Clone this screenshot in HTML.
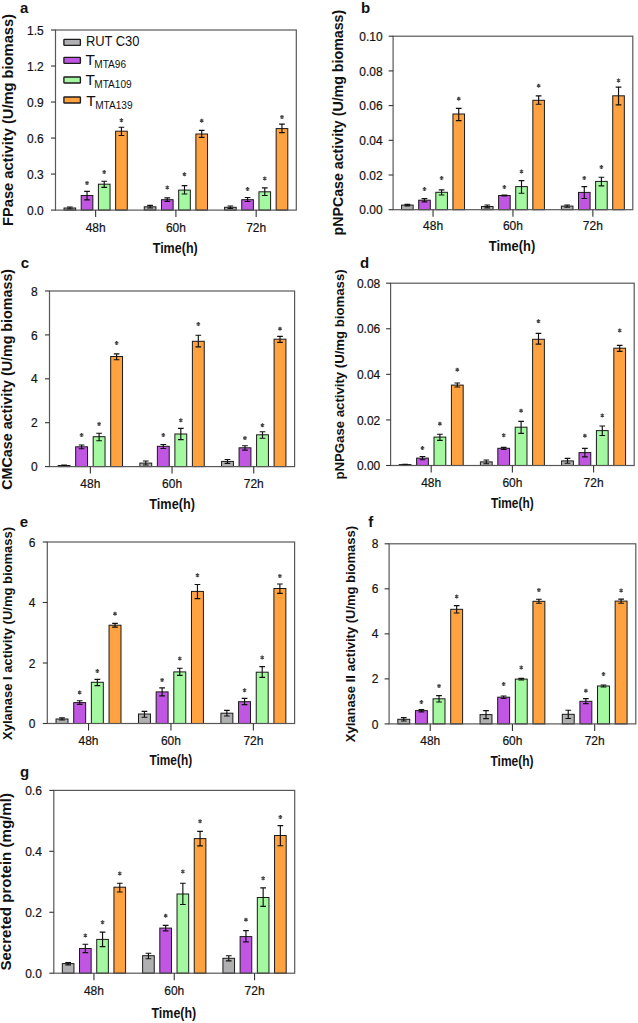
<!DOCTYPE html>
<html><head><meta charset="utf-8"><title>Figure</title>
<style>
html,body{margin:0;padding:0;background:#fff;}
body{width:638px;height:1023px;overflow:hidden;}
svg{display:block;}
text{font-family:"Liberation Sans",sans-serif;fill:#111;}
.tl{font-size:13px;stroke:#111;stroke-width:0.2px;}
.tt{font-size:13.8px;font-weight:bold;}
.yl{font-weight:bold;}
.pl{font-size:15px;font-weight:bold;}
.lg{font-size:13.8px;}
.lgT{font-size:15.4px;}
.lgS{font-size:10.1px;}
.bar{stroke:#1a1a1a;stroke-width:1;}
.lbar{stroke:#1c1c1c;stroke-width:1.35;}
.err{stroke:#111;stroke-width:1.15;fill:none;}
.ast{stroke:#444;stroke-width:1.2;fill:none;}
.frame{fill:none;stroke:#585858;stroke-width:1.2;}
.tick{stroke:#333;stroke-width:1.1;fill:none;}
</style></head>
<body><svg width="638" height="1023" viewBox="0 0 638 1023">
<rect x="64.01" y="208" width="11.64" height="2.1" fill="#b0b0b2" class="bar"/>
<path d="M69.83 207V209 M66.98 207H72.68 M66.98 209H72.68" class="err"/>
<rect x="81.21" y="195.5" width="11.64" height="14.6" fill="#c056e2" class="bar"/>
<path d="M87.03 191.4V199.9 M84.18 191.4H89.88 M84.18 199.9H89.88" class="err"/>
<path d="M87.03 181.1V185.1 M85.29 182.1L88.77 184.1 M85.29 184.1L88.77 182.1" class="ast"/>
<rect x="98.41" y="184.2" width="11.64" height="25.9" fill="#a4f8a0" class="bar"/>
<path d="M104.23 181.2V187.3 M101.38 181.2H107.08 M101.38 187.3H107.08" class="err"/>
<path d="M104.23 170.1V174.1 M102.49 171.1L105.97 173.1 M102.49 173.1L105.97 171.1" class="ast"/>
<rect x="115.62" y="131.2" width="11.64" height="78.9" fill="#ffa23f" class="bar"/>
<path d="M121.44 127.2V135.5 M118.59 127.2H124.29 M118.59 135.5H124.29" class="err"/>
<path d="M121.44 118.2V122.2 M119.7 119.2L123.18 121.2 M119.7 121.2L123.18 119.2" class="ast"/>
<rect x="144.28" y="206.8" width="11.64" height="3.3" fill="#b0b0b2" class="bar"/>
<path d="M150.1 205.4V208 M147.25 205.4H152.95 M147.25 208H152.95" class="err"/>
<rect x="161.48" y="199.7" width="11.64" height="10.4" fill="#c056e2" class="bar"/>
<path d="M167.3 197.8V201.4 M164.45 197.8H170.15 M164.45 201.4H170.15" class="err"/>
<path d="M167.3 185.6V189.6 M165.56 186.6L169.04 188.6 M165.56 188.6L169.04 186.6" class="ast"/>
<rect x="178.68" y="190.1" width="11.64" height="20" fill="#a4f8a0" class="bar"/>
<path d="M184.5 185.6V194 M181.65 185.6H187.35 M181.65 194H187.35" class="err"/>
<path d="M184.5 172.3V176.3 M182.76 173.3L186.24 175.3 M182.76 175.3L186.24 173.3" class="ast"/>
<rect x="195.88" y="134" width="11.64" height="76.1" fill="#ffa23f" class="bar"/>
<path d="M201.7 130.3V137.4 M198.85 130.3H204.55 M198.85 137.4H204.55" class="err"/>
<path d="M201.7 118.7V122.7 M199.96 119.7L203.44 121.7 M199.96 121.7L203.44 119.7" class="ast"/>
<rect x="224.55" y="207.3" width="11.64" height="2.8" fill="#b0b0b2" class="bar"/>
<path d="M230.36 206V208.5 M227.51 206H233.21 M227.51 208.5H233.21" class="err"/>
<rect x="241.75" y="199.7" width="11.64" height="10.4" fill="#c056e2" class="bar"/>
<path d="M247.57 197.5V201.5 M244.72 197.5H250.42 M244.72 201.5H250.42" class="err"/>
<path d="M247.57 187V191 M245.83 188L249.31 190 M245.83 190L249.31 188" class="ast"/>
<rect x="258.95" y="191.8" width="11.64" height="18.3" fill="#a4f8a0" class="bar"/>
<path d="M264.77 187.9V195.5 M261.92 187.9H267.62 M261.92 195.5H267.62" class="err"/>
<path d="M264.77 176.6V180.6 M263.03 177.6L266.51 179.6 M263.03 179.6L266.51 177.6" class="ast"/>
<rect x="276.15" y="128.6" width="11.64" height="81.5" fill="#ffa23f" class="bar"/>
<path d="M281.97 124.1V132.6 M279.12 124.1H284.82 M279.12 132.6H284.82" class="err"/>
<path d="M281.97 115V119 M280.23 116L283.71 118 M280.23 118L283.71 116" class="ast"/>
<rect x="55.5" y="30" width="240.8" height="180.1" class="frame"/>
<path d="M51 210.1H55.5" class="tick"/>
<text transform="translate(43.8 214.7) scale(0.923 1)" class="tl" text-anchor="end">0.0</text>
<path d="M51 174.08H55.5" class="tick"/>
<text transform="translate(43.8 178.68) scale(0.923 1)" class="tl" text-anchor="end">0.3</text>
<path d="M51 138.06H55.5" class="tick"/>
<text transform="translate(43.8 142.66) scale(0.923 1)" class="tl" text-anchor="end">0.6</text>
<path d="M51 102.04H55.5" class="tick"/>
<text transform="translate(43.8 106.64) scale(0.923 1)" class="tl" text-anchor="end">0.9</text>
<path d="M51 66.02H55.5" class="tick"/>
<text transform="translate(43.8 70.62) scale(0.923 1)" class="tl" text-anchor="end">1.2</text>
<path d="M51 30H55.5" class="tick"/>
<text transform="translate(43.8 34.6) scale(0.923 1)" class="tl" text-anchor="end">1.5</text>
<path d="M95.63 210.1V217.1" class="tick"/>
<text transform="translate(95.63 231.5) scale(0.923 1)" class="tl" text-anchor="middle">48h</text>
<path d="M175.9 210.1V217.1" class="tick"/>
<text transform="translate(175.9 231.5) scale(0.923 1)" class="tl" text-anchor="middle">60h</text>
<path d="M256.17 210.1V217.1" class="tick"/>
<text transform="translate(256.17 231.5) scale(0.923 1)" class="tl" text-anchor="middle">72h</text>
<text x="175.25" y="252.9" class="tt" text-anchor="middle" textLength="45.1" lengthAdjust="spacingAndGlyphs">Time(h)</text>
<text transform="translate(12.9 226) rotate(-90)" x="0" y="0" class="yl" style="font-size:14.6px" textLength="212" lengthAdjust="spacingAndGlyphs">FPase activity (U/mg biomass)</text>
<text x="20.1" y="12.5" class="pl">a</text>
<rect x="401.57" y="205.1" width="11.59" height="4.6" fill="#b0b0b2" class="bar"/>
<path d="M407.37 204.4V205.8 M404.52 204.4H410.22 M404.52 205.8H410.22" class="err"/>
<rect x="418.7" y="200.2" width="11.59" height="9.5" fill="#c056e2" class="bar"/>
<path d="M424.49 198.6V201.8 M421.64 198.6H427.34 M421.64 201.8H427.34" class="err"/>
<path d="M424.49 187V191 M422.75 188L426.23 190 M422.75 190L426.23 188" class="ast"/>
<rect x="435.82" y="192.3" width="11.59" height="17.4" fill="#a4f8a0" class="bar"/>
<path d="M441.61 189.8V195 M438.76 189.8H444.46 M438.76 195H444.46" class="err"/>
<path d="M441.61 176V180 M439.87 177L443.35 179 M439.87 179L443.35 177" class="ast"/>
<rect x="452.94" y="114" width="11.59" height="95.7" fill="#ffa23f" class="bar"/>
<path d="M458.73 108.3V120.6 M455.88 108.3H461.58 M455.88 120.6H461.58" class="err"/>
<path d="M458.73 96.8V100.8 M456.99 97.8L460.47 99.8 M456.99 99.8L460.47 97.8" class="ast"/>
<rect x="481.47" y="206.5" width="11.59" height="3.2" fill="#b0b0b2" class="bar"/>
<path d="M487.27 205V207.8 M484.42 205H490.12 M484.42 207.8H490.12" class="err"/>
<rect x="498.6" y="195.5" width="11.59" height="14.2" fill="#c056e2" class="bar"/>
<path d="M504.39 195.1V195.9 M501.54 195.1H507.24 M501.54 195.9H507.24" class="err"/>
<path d="M504.39 185V189 M502.65 186L506.13 188 M502.65 188L506.13 186" class="ast"/>
<rect x="515.72" y="186.6" width="11.59" height="23.1" fill="#a4f8a0" class="bar"/>
<path d="M521.51 180.6V193.2 M518.66 180.6H524.36 M518.66 193.2H524.36" class="err"/>
<path d="M521.51 169.4V173.4 M519.77 170.4L523.25 172.4 M519.77 172.4L523.25 170.4" class="ast"/>
<rect x="532.84" y="100.3" width="11.59" height="109.4" fill="#ffa23f" class="bar"/>
<path d="M538.63 95.8V104.2 M535.78 95.8H541.48 M535.78 104.2H541.48" class="err"/>
<path d="M538.63 83.8V87.8 M536.89 84.8L540.37 86.8 M536.89 86.8L540.37 84.8" class="ast"/>
<rect x="561.37" y="206.1" width="11.59" height="3.6" fill="#b0b0b2" class="bar"/>
<path d="M567.17 205V207.2 M564.32 205H570.02 M564.32 207.2H570.02" class="err"/>
<rect x="578.5" y="192.4" width="11.59" height="17.3" fill="#c056e2" class="bar"/>
<path d="M584.29 186.6V198.5 M581.44 186.6H587.14 M581.44 198.5H587.14" class="err"/>
<path d="M584.29 176V180 M582.55 177L586.03 179 M582.55 179L586.03 177" class="ast"/>
<rect x="595.62" y="181.4" width="11.59" height="28.3" fill="#a4f8a0" class="bar"/>
<path d="M601.41 177.2V185.8 M598.56 177.2H604.26 M598.56 185.8H604.26" class="err"/>
<path d="M601.41 164.9V168.9 M599.67 165.9L603.15 167.9 M599.67 167.9L603.15 165.9" class="ast"/>
<rect x="612.74" y="95.8" width="11.59" height="113.9" fill="#ffa23f" class="bar"/>
<path d="M618.53 87.1V104.8 M615.68 87.1H621.38 M615.68 104.8H621.38" class="err"/>
<path d="M618.53 78.5V82.5 M616.79 79.5L620.27 81.5 M616.79 81.5L620.27 79.5" class="ast"/>
<rect x="393.1" y="36.2" width="239.7" height="173.5" class="frame"/>
<path d="M388.6 209.7H393.1" class="tick"/>
<text transform="translate(382.6 214.3) scale(0.923 1)" class="tl" text-anchor="end">0.00</text>
<path d="M388.6 175H393.1" class="tick"/>
<text transform="translate(382.6 179.6) scale(0.923 1)" class="tl" text-anchor="end">0.02</text>
<path d="M388.6 140.3H393.1" class="tick"/>
<text transform="translate(382.6 144.9) scale(0.923 1)" class="tl" text-anchor="end">0.04</text>
<path d="M388.6 105.6H393.1" class="tick"/>
<text transform="translate(382.6 110.2) scale(0.923 1)" class="tl" text-anchor="end">0.06</text>
<path d="M388.6 70.9H393.1" class="tick"/>
<text transform="translate(382.6 75.5) scale(0.923 1)" class="tl" text-anchor="end">0.08</text>
<path d="M388.6 36.2H393.1" class="tick"/>
<text transform="translate(382.6 40.8) scale(0.923 1)" class="tl" text-anchor="end">0.10</text>
<path d="M433.05 209.7V216.7" class="tick"/>
<text transform="translate(433.05 230) scale(0.923 1)" class="tl" text-anchor="middle">48h</text>
<path d="M512.95 209.7V216.7" class="tick"/>
<text transform="translate(512.95 230) scale(0.923 1)" class="tl" text-anchor="middle">60h</text>
<path d="M592.85 209.7V216.7" class="tick"/>
<text transform="translate(592.85 230) scale(0.923 1)" class="tl" text-anchor="middle">72h</text>
<text x="512" y="250.7" class="tt" text-anchor="middle" textLength="46.4" lengthAdjust="spacingAndGlyphs">Time(h)</text>
<text transform="translate(343.1 235.5) rotate(-90)" x="0" y="0" class="yl" style="font-size:14.1px" textLength="225.7" lengthAdjust="spacingAndGlyphs">pNPCase activity (U/mg biomass)</text>
<text x="361" y="12.5" class="pl">b</text>
<rect x="58.16" y="465.5" width="11.85" height="1.1" fill="#b0b0b2" class="bar"/>
<path d="M64.09 465.1V465.9 M61.24 465.1H66.94 M61.24 465.9H66.94" class="err"/>
<rect x="75.67" y="446.8" width="11.85" height="19.8" fill="#c056e2" class="bar"/>
<path d="M81.6 445V448.7 M78.75 445H84.45 M78.75 448.7H84.45" class="err"/>
<path d="M81.6 433.1V437.1 M79.86 434.1L83.34 436.1 M79.86 436.1L83.34 434.1" class="ast"/>
<rect x="93.18" y="436.7" width="11.85" height="29.9" fill="#a4f8a0" class="bar"/>
<path d="M99.1 433.2V440.7 M96.25 433.2H101.95 M96.25 440.7H101.95" class="err"/>
<path d="M99.1 421.9V425.9 M97.36 422.9L100.84 424.9 M97.36 424.9L100.84 422.9" class="ast"/>
<rect x="110.69" y="356.5" width="11.85" height="110.1" fill="#ffa23f" class="bar"/>
<path d="M116.61 353.8V359.7 M113.76 353.8H119.46 M113.76 359.7H119.46" class="err"/>
<path d="M116.61 340.9V344.9 M114.87 341.9L118.35 343.9 M114.87 343.9L118.35 341.9" class="ast"/>
<rect x="139.86" y="463.1" width="11.85" height="3.5" fill="#b0b0b2" class="bar"/>
<path d="M145.79 461V465 M142.94 461H148.64 M142.94 465H148.64" class="err"/>
<rect x="157.37" y="446.3" width="11.85" height="20.3" fill="#c056e2" class="bar"/>
<path d="M163.3 444.5V448.5 M160.45 444.5H166.15 M160.45 448.5H166.15" class="err"/>
<path d="M163.3 433.1V437.1 M161.56 434.1L165.04 436.1 M161.56 436.1L165.04 434.1" class="ast"/>
<rect x="174.88" y="434" width="11.85" height="32.6" fill="#a4f8a0" class="bar"/>
<path d="M180.8 428.4V439.6 M177.95 428.4H183.65 M177.95 439.6H183.65" class="err"/>
<path d="M180.8 418.2V422.2 M179.06 419.2L182.54 421.2 M179.06 421.2L182.54 419.2" class="ast"/>
<rect x="192.39" y="341.3" width="11.85" height="125.3" fill="#ffa23f" class="bar"/>
<path d="M198.31 335.2V346.9 M195.46 335.2H201.16 M195.46 346.9H201.16" class="err"/>
<path d="M198.31 322V326 M196.57 323L200.05 325 M196.57 325L200.05 323" class="ast"/>
<rect x="221.56" y="461.4" width="11.85" height="5.2" fill="#b0b0b2" class="bar"/>
<path d="M227.49 459.5V463.3 M224.64 459.5H230.34 M224.64 463.3H230.34" class="err"/>
<rect x="239.07" y="447.8" width="11.85" height="18.8" fill="#c056e2" class="bar"/>
<path d="M245 445.7V450.1 M242.15 445.7H247.85 M242.15 450.1H247.85" class="err"/>
<path d="M245 435.9V439.9 M243.26 436.9L246.74 438.9 M243.26 438.9L246.74 436.9" class="ast"/>
<rect x="256.58" y="434.8" width="11.85" height="31.8" fill="#a4f8a0" class="bar"/>
<path d="M262.5 431.7V438.2 M259.65 431.7H265.35 M259.65 438.2H265.35" class="err"/>
<path d="M262.5 423.3V427.3 M260.76 424.3L264.24 426.3 M260.76 426.3L264.24 424.3" class="ast"/>
<rect x="274.09" y="339.2" width="11.85" height="127.4" fill="#ffa23f" class="bar"/>
<path d="M280.01 336.3V342.4 M277.16 336.3H282.86 M277.16 342.4H282.86" class="err"/>
<path d="M280.01 326.8V330.8 M278.27 327.8L281.75 329.8 M278.27 329.8L281.75 327.8" class="ast"/>
<rect x="49.5" y="291" width="245.1" height="175.6" class="frame"/>
<path d="M45 466.6H49.5" class="tick"/>
<text transform="translate(37.7 471.2) scale(0.923 1)" class="tl" text-anchor="end">0</text>
<path d="M45 422.7H49.5" class="tick"/>
<text transform="translate(37.7 427.3) scale(0.923 1)" class="tl" text-anchor="end">2</text>
<path d="M45 378.8H49.5" class="tick"/>
<text transform="translate(37.7 383.4) scale(0.923 1)" class="tl" text-anchor="end">4</text>
<path d="M45 334.9H49.5" class="tick"/>
<text transform="translate(37.7 339.5) scale(0.923 1)" class="tl" text-anchor="end">6</text>
<path d="M45 291H49.5" class="tick"/>
<text transform="translate(37.7 295.6) scale(0.923 1)" class="tl" text-anchor="end">8</text>
<path d="M90.35 466.6V473.6" class="tick"/>
<text transform="translate(90.35 487.6) scale(0.923 1)" class="tl" text-anchor="middle">48h</text>
<path d="M172.05 466.6V473.6" class="tick"/>
<text transform="translate(172.05 487.6) scale(0.923 1)" class="tl" text-anchor="middle">60h</text>
<path d="M253.75 466.6V473.6" class="tick"/>
<text transform="translate(253.75 487.6) scale(0.923 1)" class="tl" text-anchor="middle">72h</text>
<text x="172.1" y="508.6" class="tt" text-anchor="middle" textLength="45.6" lengthAdjust="spacingAndGlyphs">Time(h)</text>
<text transform="translate(12.2 489.7) rotate(-90)" x="0" y="0" class="yl" style="font-size:14.2px" textLength="220.8" lengthAdjust="spacingAndGlyphs">CMCase activity (U/mg biomass)</text>
<text x="20.7" y="268.2" class="pl">c</text>
<rect x="399.21" y="464.6" width="11.77" height="0.9" fill="#b0b0b2" class="bar"/>
<path d="M405.1 464.4V464.8 M402.25 464.4H407.95 M402.25 464.8H407.95" class="err"/>
<rect x="416.61" y="458.1" width="11.77" height="7.4" fill="#c056e2" class="bar"/>
<path d="M422.5 456.5V459.7 M419.65 456.5H425.35 M419.65 459.7H425.35" class="err"/>
<path d="M422.5 446V450 M420.76 447L424.24 449 M420.76 449L424.24 447" class="ast"/>
<rect x="434.01" y="437.1" width="11.77" height="28.4" fill="#a4f8a0" class="bar"/>
<path d="M439.9 434.2V440.3 M437.05 434.2H442.75 M437.05 440.3H442.75" class="err"/>
<path d="M439.9 421.8V425.8 M438.16 422.8L441.64 424.8 M438.16 424.8L441.64 422.8" class="ast"/>
<rect x="451.41" y="385.1" width="11.77" height="80.4" fill="#ffa23f" class="bar"/>
<path d="M457.3 383V387 M454.45 383H460.15 M454.45 387H460.15" class="err"/>
<path d="M457.3 367.7V371.7 M455.56 368.7L459.04 370.7 M455.56 370.7L459.04 368.7" class="ast"/>
<rect x="480.41" y="461.9" width="11.77" height="3.6" fill="#b0b0b2" class="bar"/>
<path d="M486.3 460V463.7 M483.45 460H489.15 M483.45 463.7H489.15" class="err"/>
<rect x="497.81" y="448.3" width="11.77" height="17.2" fill="#c056e2" class="bar"/>
<path d="M503.7 447.3V449.5 M500.85 447.3H506.55 M500.85 449.5H506.55" class="err"/>
<path d="M503.7 433.2V437.2 M501.96 434.2L505.44 436.2 M501.96 436.2L505.44 434.2" class="ast"/>
<rect x="515.21" y="427.2" width="11.77" height="38.3" fill="#a4f8a0" class="bar"/>
<path d="M521.1 421.4V433.4 M518.25 421.4H523.95 M518.25 433.4H523.95" class="err"/>
<path d="M521.1 408.7V412.7 M519.36 409.7L522.84 411.7 M519.36 411.7L522.84 409.7" class="ast"/>
<rect x="532.61" y="339.3" width="11.77" height="126.2" fill="#ffa23f" class="bar"/>
<path d="M538.5 333.4V344.1 M535.65 333.4H541.35 M535.65 344.1H541.35" class="err"/>
<path d="M538.5 319.2V323.2 M536.76 320.2L540.24 322.2 M536.76 322.2L540.24 320.2" class="ast"/>
<rect x="561.61" y="460.9" width="11.77" height="4.6" fill="#b0b0b2" class="bar"/>
<path d="M567.5 458.3V463.2 M564.65 458.3H570.35 M564.65 463.2H570.35" class="err"/>
<rect x="579.01" y="452.6" width="11.77" height="12.9" fill="#c056e2" class="bar"/>
<path d="M584.9 448.4V456.9 M582.05 448.4H587.75 M582.05 456.9H587.75" class="err"/>
<path d="M584.9 433.8V437.8 M583.16 434.8L586.64 436.8 M583.16 436.8L586.64 434.8" class="ast"/>
<rect x="596.41" y="430.6" width="11.77" height="34.9" fill="#a4f8a0" class="bar"/>
<path d="M602.3 426V435.5 M599.45 426H605.15 M599.45 435.5H605.15" class="err"/>
<path d="M602.3 413.6V417.6 M600.56 414.6L604.04 416.6 M600.56 416.6L604.04 414.6" class="ast"/>
<rect x="613.81" y="348.2" width="11.77" height="117.3" fill="#ffa23f" class="bar"/>
<path d="M619.7 345.3V351.4 M616.85 345.3H622.55 M616.85 351.4H622.55" class="err"/>
<path d="M619.7 328.5V332.5 M617.96 329.5L621.44 331.5 M617.96 331.5L621.44 329.5" class="ast"/>
<rect x="390.6" y="283.2" width="243.6" height="182.3" class="frame"/>
<path d="M386.1 465.5H390.6" class="tick"/>
<text transform="translate(380.3 470.1) scale(0.923 1)" class="tl" text-anchor="end">0.00</text>
<path d="M386.1 419.93H390.6" class="tick"/>
<text transform="translate(380.3 424.53) scale(0.923 1)" class="tl" text-anchor="end">0.02</text>
<path d="M386.1 374.35H390.6" class="tick"/>
<text transform="translate(380.3 378.95) scale(0.923 1)" class="tl" text-anchor="end">0.04</text>
<path d="M386.1 328.77H390.6" class="tick"/>
<text transform="translate(380.3 333.38) scale(0.923 1)" class="tl" text-anchor="end">0.06</text>
<path d="M386.1 283.2H390.6" class="tick"/>
<text transform="translate(380.3 287.8) scale(0.923 1)" class="tl" text-anchor="end">0.08</text>
<path d="M431.2 465.5V472.5" class="tick"/>
<text transform="translate(431.2 486.9) scale(0.923 1)" class="tl" text-anchor="middle">48h</text>
<path d="M512.4 465.5V472.5" class="tick"/>
<text transform="translate(512.4 486.9) scale(0.923 1)" class="tl" text-anchor="middle">60h</text>
<path d="M593.6 465.5V472.5" class="tick"/>
<text transform="translate(593.6 486.9) scale(0.923 1)" class="tl" text-anchor="middle">72h</text>
<text x="512.3" y="507.6" class="tt" text-anchor="middle" textLength="42.8" lengthAdjust="spacingAndGlyphs">Time(h)</text>
<text transform="translate(344 479.5) rotate(-90)" x="0" y="0" class="yl" style="font-size:13.1px" textLength="210.1" lengthAdjust="spacingAndGlyphs">pNPGase activity (U/mg biomass)</text>
<text x="360" y="268.3" class="pl">d</text>
<rect x="56.04" y="719" width="11.95" height="4.5" fill="#b0b0b2" class="bar"/>
<path d="M62.02 717.8V720 M59.17 717.8H64.87 M59.17 720H64.87" class="err"/>
<rect x="73.71" y="702.6" width="11.95" height="20.9" fill="#c056e2" class="bar"/>
<path d="M79.68 700.7V704.3 M76.83 700.7H82.53 M76.83 704.3H82.53" class="err"/>
<path d="M79.68 690.6V694.6 M77.94 691.6L81.42 693.6 M77.94 693.6L81.42 691.6" class="ast"/>
<rect x="91.37" y="682.3" width="11.95" height="41.2" fill="#a4f8a0" class="bar"/>
<path d="M97.35 679.4V685.6 M94.5 679.4H100.2 M94.5 685.6H100.2" class="err"/>
<path d="M97.35 668.9V672.9 M95.61 669.9L99.09 671.9 M95.61 671.9L99.09 669.9" class="ast"/>
<rect x="109.04" y="625.2" width="11.95" height="98.3" fill="#ffa23f" class="bar"/>
<path d="M115.01 623.4V627.1 M112.16 623.4H117.86 M112.16 627.1H117.86" class="err"/>
<path d="M115.01 611.7V615.7 M113.27 612.7L116.75 614.7 M113.27 614.7L116.75 612.7" class="ast"/>
<rect x="138.48" y="714" width="11.95" height="9.5" fill="#b0b0b2" class="bar"/>
<path d="M144.45 711.3V717.2 M141.6 711.3H147.3 M141.6 717.2H147.3" class="err"/>
<rect x="156.14" y="691.9" width="11.95" height="31.6" fill="#c056e2" class="bar"/>
<path d="M162.12 687.9V695.9 M159.27 687.9H164.97 M159.27 695.9H164.97" class="err"/>
<path d="M162.12 677.9V681.9 M160.38 678.9L163.86 680.9 M160.38 680.9L163.86 678.9" class="ast"/>
<rect x="173.81" y="671.9" width="11.95" height="51.6" fill="#a4f8a0" class="bar"/>
<path d="M179.78 668.2V675.4 M176.93 668.2H182.63 M176.93 675.4H182.63" class="err"/>
<path d="M179.78 656.6V660.6 M178.04 657.6L181.52 659.6 M178.04 659.6L181.52 657.6" class="ast"/>
<rect x="191.47" y="591.4" width="11.95" height="132.1" fill="#ffa23f" class="bar"/>
<path d="M197.45 584.5V598.6 M194.6 584.5H200.3 M194.6 598.6H200.3" class="err"/>
<path d="M197.45 573.2V577.2 M195.71 574.2L199.19 576.2 M195.71 576.2L199.19 574.2" class="ast"/>
<rect x="220.91" y="713.2" width="11.95" height="10.3" fill="#b0b0b2" class="bar"/>
<path d="M226.89 710.3V716 M224.04 710.3H229.74 M224.04 716H229.74" class="err"/>
<rect x="238.57" y="701.7" width="11.95" height="21.8" fill="#c056e2" class="bar"/>
<path d="M244.55 698.4V704.6 M241.7 698.4H247.4 M241.7 704.6H247.4" class="err"/>
<path d="M244.55 688.2V692.2 M242.81 689.2L246.29 691.2 M242.81 691.2L246.29 689.2" class="ast"/>
<rect x="256.24" y="672.2" width="11.95" height="51.3" fill="#a4f8a0" class="bar"/>
<path d="M262.22 666.6V677.4 M259.37 666.6H265.07 M259.37 677.4H265.07" class="err"/>
<path d="M262.22 655.5V659.5 M260.48 656.5L263.96 658.5 M260.48 658.5L263.96 656.5" class="ast"/>
<rect x="273.91" y="588.5" width="11.95" height="135" fill="#ffa23f" class="bar"/>
<path d="M279.88 584V593.3 M277.03 584H282.73 M277.03 593.3H282.73" class="err"/>
<path d="M279.88 574V578 M278.14 575L281.62 577 M278.14 577L281.62 575" class="ast"/>
<rect x="47.3" y="542" width="247.3" height="181.5" class="frame"/>
<path d="M42.8 723.5H47.3" class="tick"/>
<text transform="translate(35.5 728.1) scale(0.923 1)" class="tl" text-anchor="end">0</text>
<path d="M42.8 663H47.3" class="tick"/>
<text transform="translate(35.5 667.6) scale(0.923 1)" class="tl" text-anchor="end">2</text>
<path d="M42.8 602.5H47.3" class="tick"/>
<text transform="translate(35.5 607.1) scale(0.923 1)" class="tl" text-anchor="end">4</text>
<path d="M42.8 542H47.3" class="tick"/>
<text transform="translate(35.5 546.6) scale(0.923 1)" class="tl" text-anchor="end">6</text>
<path d="M88.52 723.5V730.5" class="tick"/>
<text transform="translate(88.52 744.7) scale(0.923 1)" class="tl" text-anchor="middle">48h</text>
<path d="M170.95 723.5V730.5" class="tick"/>
<text transform="translate(170.95 744.7) scale(0.923 1)" class="tl" text-anchor="middle">60h</text>
<path d="M253.38 723.5V730.5" class="tick"/>
<text transform="translate(253.38 744.7) scale(0.923 1)" class="tl" text-anchor="middle">72h</text>
<text x="170.8" y="764.5" class="tt" text-anchor="middle" textLength="42.6" lengthAdjust="spacingAndGlyphs">Time(h)</text>
<text transform="translate(11.5 739.9) rotate(-90)" x="0" y="0" class="yl" style="font-size:12.9px" textLength="212.9" lengthAdjust="spacingAndGlyphs">Xylanase I activity (U/mg biomass)</text>
<text x="19.7" y="526.5" class="pl">e</text>
<rect x="397.82" y="719.3" width="11.92" height="4.6" fill="#b0b0b2" class="bar"/>
<path d="M403.78 717.6V721 M400.93 717.6H406.63 M400.93 721H406.63" class="err"/>
<rect x="415.44" y="710.6" width="11.92" height="13.3" fill="#c056e2" class="bar"/>
<path d="M421.41 709.5V711.8 M418.56 709.5H424.26 M418.56 711.8H424.26" class="err"/>
<path d="M421.41 700V704 M419.67 701L423.15 703 M419.67 703L423.15 701" class="ast"/>
<rect x="433.07" y="698.8" width="11.92" height="25.1" fill="#a4f8a0" class="bar"/>
<path d="M439.03 695.6V702 M436.18 695.6H441.88 M436.18 702H441.88" class="err"/>
<path d="M439.03 684V688 M437.29 685L440.77 687 M437.29 687L440.77 685" class="ast"/>
<rect x="450.69" y="609.3" width="11.92" height="114.6" fill="#ffa23f" class="bar"/>
<path d="M456.65 605.6V613 M453.8 605.6H459.5 M453.8 613H459.5" class="err"/>
<path d="M456.65 594.5V598.5 M454.91 595.5L458.39 597.5 M454.91 597.5L458.39 595.5" class="ast"/>
<rect x="480.05" y="714.6" width="11.92" height="9.3" fill="#b0b0b2" class="bar"/>
<path d="M486.02 710.6V718.6 M483.17 710.6H488.87 M483.17 718.6H488.87" class="err"/>
<rect x="497.68" y="697.2" width="11.92" height="26.7" fill="#c056e2" class="bar"/>
<path d="M503.64 696V698.5 M500.79 696H506.49 M500.79 698.5H506.49" class="err"/>
<path d="M503.64 681.9V685.9 M501.9 682.9L505.38 684.9 M501.9 684.9L505.38 682.9" class="ast"/>
<rect x="515.3" y="679.1" width="11.92" height="44.8" fill="#a4f8a0" class="bar"/>
<path d="M521.26 678.3V680 M518.41 678.3H524.11 M518.41 680H524.11" class="err"/>
<path d="M521.26 665.4V669.4 M519.52 666.4L523 668.4 M519.52 668.4L523 666.4" class="ast"/>
<rect x="532.92" y="601.3" width="11.92" height="122.6" fill="#ffa23f" class="bar"/>
<path d="M538.88 599.2V603.2 M536.03 599.2H541.73 M536.03 603.2H541.73" class="err"/>
<path d="M538.88 588.1V592.1 M537.14 589.1L540.62 591.1 M537.14 591.1L540.62 589.1" class="ast"/>
<rect x="562.29" y="714.3" width="11.92" height="9.6" fill="#b0b0b2" class="bar"/>
<path d="M568.25 710.2V718.5 M565.4 710.2H571.1 M565.4 718.5H571.1" class="err"/>
<rect x="579.91" y="701.3" width="11.92" height="22.6" fill="#c056e2" class="bar"/>
<path d="M585.87 698.6V703.6 M583.02 698.6H588.72 M583.02 703.6H588.72" class="err"/>
<path d="M585.87 688.8V692.8 M584.13 689.8L587.61 691.8 M584.13 691.8L587.61 689.8" class="ast"/>
<rect x="597.53" y="686" width="11.92" height="37.9" fill="#a4f8a0" class="bar"/>
<path d="M603.49 685V687 M600.64 685H606.34 M600.64 687H606.34" class="err"/>
<path d="M603.49 671.9V675.9 M601.75 672.9L605.23 674.9 M601.75 674.9L605.23 672.9" class="ast"/>
<rect x="615.16" y="601.1" width="11.92" height="122.8" fill="#ffa23f" class="bar"/>
<path d="M621.12 599.1V603.2 M618.27 599.1H623.97 M618.27 603.2H623.97" class="err"/>
<path d="M621.12 588.6V592.6 M619.38 589.6L622.86 591.6 M619.38 591.6L622.86 589.6" class="ast"/>
<rect x="389.1" y="543.8" width="246.7" height="180.1" class="frame"/>
<path d="M384.6 723.9H389.1" class="tick"/>
<text transform="translate(378.4 728.5) scale(0.923 1)" class="tl" text-anchor="end">0</text>
<path d="M384.6 678.88H389.1" class="tick"/>
<text transform="translate(378.4 683.48) scale(0.923 1)" class="tl" text-anchor="end">2</text>
<path d="M384.6 633.85H389.1" class="tick"/>
<text transform="translate(378.4 638.45) scale(0.923 1)" class="tl" text-anchor="end">4</text>
<path d="M384.6 588.82H389.1" class="tick"/>
<text transform="translate(378.4 593.42) scale(0.923 1)" class="tl" text-anchor="end">6</text>
<path d="M384.6 543.8H389.1" class="tick"/>
<text transform="translate(378.4 548.4) scale(0.923 1)" class="tl" text-anchor="end">8</text>
<path d="M430.22 723.9V730.9" class="tick"/>
<text transform="translate(430.22 744.7) scale(0.923 1)" class="tl" text-anchor="middle">48h</text>
<path d="M512.45 723.9V730.9" class="tick"/>
<text transform="translate(512.45 744.7) scale(0.923 1)" class="tl" text-anchor="middle">60h</text>
<path d="M594.68 723.9V730.9" class="tick"/>
<text transform="translate(594.68 744.7) scale(0.923 1)" class="tl" text-anchor="middle">72h</text>
<text x="512" y="765.6" class="tt" text-anchor="middle" textLength="43.1" lengthAdjust="spacingAndGlyphs">Time(h)</text>
<text transform="translate(355.4 742.2) rotate(-90)" x="0" y="0" class="yl" style="font-size:12.9px" textLength="216.2" lengthAdjust="spacingAndGlyphs">Xylanase II activity (U/mg biomass)</text>
<text x="368.3" y="526.5" class="pl">f</text>
<rect x="62.32" y="963.6" width="11.64" height="9.6" fill="#b0b0b2" class="bar"/>
<path d="M68.14 962.5V964.8 M65.29 962.5H70.99 M65.29 964.8H70.99" class="err"/>
<rect x="79.52" y="948.5" width="11.64" height="24.7" fill="#c056e2" class="bar"/>
<path d="M85.35 944.2V952.6 M82.5 944.2H88.2 M82.5 952.6H88.2" class="err"/>
<path d="M85.35 933.4V937.4 M83.61 934.4L87.09 936.4 M83.61 936.4L87.09 934.4" class="ast"/>
<rect x="96.73" y="939.4" width="11.64" height="33.8" fill="#a4f8a0" class="bar"/>
<path d="M102.55 932.1V946.6 M99.7 932.1H105.4 M99.7 946.6H105.4" class="err"/>
<path d="M102.55 920.3V924.3 M100.81 921.3L104.29 923.3 M100.81 923.3L104.29 921.3" class="ast"/>
<rect x="113.94" y="887.2" width="11.64" height="86" fill="#ffa23f" class="bar"/>
<path d="M119.76 883.2V892 M116.91 883.2H122.61 M116.91 892H122.61" class="err"/>
<path d="M119.76 871.4V875.4 M118.02 872.4L121.5 874.4 M118.02 874.4L121.5 872.4" class="ast"/>
<rect x="142.62" y="955.7" width="11.64" height="17.5" fill="#b0b0b2" class="bar"/>
<path d="M148.44 953.2V958.7 M145.59 953.2H151.29 M145.59 958.7H151.29" class="err"/>
<rect x="159.82" y="928.1" width="11.64" height="45.1" fill="#c056e2" class="bar"/>
<path d="M165.65 925.3V930.8 M162.8 925.3H168.5 M162.8 930.8H168.5" class="err"/>
<path d="M165.65 913.8V917.8 M163.91 914.8L167.39 916.8 M163.91 916.8L167.39 914.8" class="ast"/>
<rect x="177.03" y="894" width="11.64" height="79.2" fill="#a4f8a0" class="bar"/>
<path d="M182.85 883.2V904.5 M180 883.2H185.7 M180 904.5H185.7" class="err"/>
<path d="M182.85 869.4V873.4 M181.11 870.4L184.59 872.4 M181.11 872.4L184.59 870.4" class="ast"/>
<rect x="194.24" y="838.6" width="11.64" height="134.6" fill="#ffa23f" class="bar"/>
<path d="M200.06 831.3V845.8 M197.21 831.3H202.91 M197.21 845.8H202.91" class="err"/>
<path d="M200.06 819.3V823.3 M198.32 820.3L201.8 822.3 M198.32 822.3L201.8 820.3" class="ast"/>
<rect x="222.92" y="958.3" width="11.64" height="14.9" fill="#b0b0b2" class="bar"/>
<path d="M228.74 955.7V960.8 M225.89 955.7H231.59 M225.89 960.8H231.59" class="err"/>
<rect x="240.12" y="936.6" width="11.64" height="36.6" fill="#c056e2" class="bar"/>
<path d="M245.95 930.6V941.9 M243.1 930.6H248.8 M243.1 941.9H248.8" class="err"/>
<path d="M245.95 917.7V921.7 M244.21 918.7L247.69 920.7 M244.21 920.7L247.69 918.7" class="ast"/>
<rect x="257.33" y="897.5" width="11.64" height="75.7" fill="#a4f8a0" class="bar"/>
<path d="M263.15 887.9V906.4 M260.3 887.9H266 M260.3 906.4H266" class="err"/>
<path d="M263.15 876.2V880.2 M261.41 877.2L264.89 879.2 M261.41 879.2L264.89 877.2" class="ast"/>
<rect x="274.54" y="835.5" width="11.64" height="137.7" fill="#ffa23f" class="bar"/>
<path d="M280.36 825.6V845.7 M277.51 825.6H283.21 M277.51 845.7H283.21" class="err"/>
<path d="M280.36 815V819 M278.62 816L282.1 818 M278.62 818L282.1 816" class="ast"/>
<rect x="53.8" y="790.4" width="240.9" height="182.8" class="frame"/>
<path d="M49.3 973.2H53.8" class="tick"/>
<text transform="translate(41.85 977.8) scale(0.923 1)" class="tl" text-anchor="end">0.0</text>
<path d="M49.3 912.27H53.8" class="tick"/>
<text transform="translate(41.85 916.87) scale(0.923 1)" class="tl" text-anchor="end">0.2</text>
<path d="M49.3 851.33H53.8" class="tick"/>
<text transform="translate(41.85 855.93) scale(0.923 1)" class="tl" text-anchor="end">0.4</text>
<path d="M49.3 790.4H53.8" class="tick"/>
<text transform="translate(41.85 795) scale(0.923 1)" class="tl" text-anchor="end">0.6</text>
<path d="M93.95 973.2V980.2" class="tick"/>
<text transform="translate(93.95 995.1) scale(0.923 1)" class="tl" text-anchor="middle">48h</text>
<path d="M174.25 973.2V980.2" class="tick"/>
<text transform="translate(174.25 995.1) scale(0.923 1)" class="tl" text-anchor="middle">60h</text>
<path d="M254.55 973.2V980.2" class="tick"/>
<text transform="translate(254.55 995.1) scale(0.923 1)" class="tl" text-anchor="middle">72h</text>
<text x="173.85" y="1017.6" class="tt" text-anchor="middle" textLength="44.7" lengthAdjust="spacingAndGlyphs">Time(h)</text>
<text transform="translate(11.3 970.6) rotate(-90)" x="0" y="0" class="yl" style="font-size:15px" textLength="177.5" lengthAdjust="spacingAndGlyphs">Secreted protein (mg/ml)</text>
<text x="20.1" y="777" class="pl">g</text>
<rect x="63.9" y="39.4" width="16.5" height="6" fill="#b0b0b2" class="lbar" rx="0.6"/>
<text x="85.9" y="46" class="lg" textLength="53.6" lengthAdjust="spacingAndGlyphs">RUT C30</text>
<rect x="63.9" y="57.4" width="16.5" height="6" fill="#c056e2" class="lbar" rx="0.6"/>
<text x="85.4" y="65" class="lgT">T</text>
<text x="94.3" y="68.2" class="lgS">MTA96</text>
<rect x="63.9" y="77" width="16.5" height="6" fill="#a4f8a0" class="lbar" rx="0.6"/>
<text x="85.4" y="85" class="lgT">T</text>
<text x="94.3" y="88.2" class="lgS">MTA109</text>
<rect x="63.9" y="97" width="16.5" height="6" fill="#ffa23f" class="lbar" rx="0.6"/>
<text x="86.3" y="105.7" class="lgT">T</text>
<text x="95.2" y="108.9" class="lgS">MTA139</text>
</svg></body></html>
